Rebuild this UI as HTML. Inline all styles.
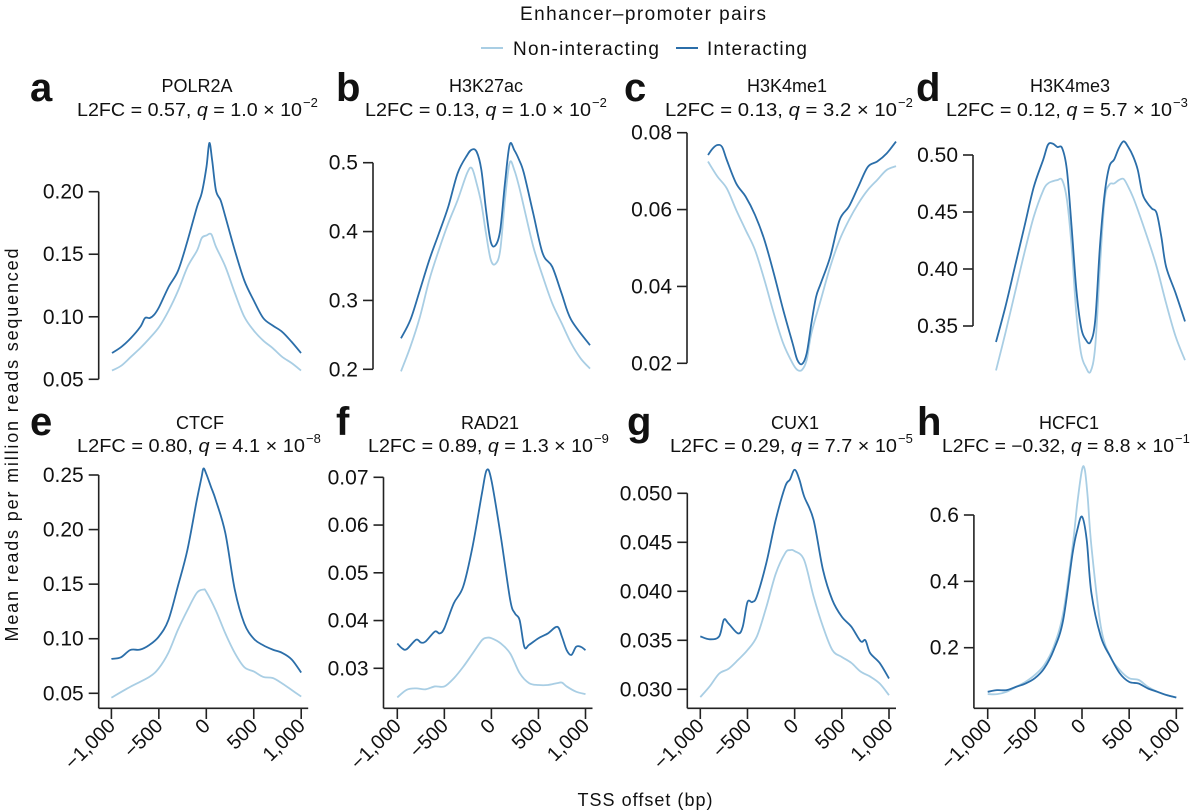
<!DOCTYPE html>
<html><head><meta charset="utf-8"><style>
html,body{margin:0;padding:0;background:#fff;}
svg{display:block;font-family:"Liberation Sans",Arial,sans-serif;}
</style></head><body>
<svg id="fig" width="1200" height="812" viewBox="0 0 1200 812">
<text x="643" y="20" font-size="19" text-anchor="middle" textLength="246" fill="#111">Enhancer–promoter pairs</text>
<line x1="481" y1="48" x2="503" y2="48" stroke="#a9cee4" stroke-width="2"/>
<text x="513" y="55" font-size="19" textLength="146" fill="#111">Non-interacting</text>
<line x1="676" y1="48" x2="698" y2="48" stroke="#2b6ea9" stroke-width="2"/>
<text x="707" y="55" font-size="19" textLength="100" fill="#111">Interacting</text>
<text transform="translate(18,445) rotate(-90)" font-size="18" text-anchor="middle" textLength="393" fill="#111">Mean reads per million reads sequenced</text>
<text x="645" y="806" font-size="18" text-anchor="middle" textLength="135" fill="#111">TSS offset (bp)</text>
<g id="panels"></g>
</svg>
<script>
// ---- data: [TSS offset bp, mean reads per million] ----
const polr2aInteracting=[[-1000,0.071],[-900,0.076],[-800,0.083],[-700,0.092],[-650,0.099],[-600,0.099],[-550,0.102],[-500,0.108],[-400,0.124],[-300,0.137],[-200,0.161],[-100,0.188],[-50,0.199],[0,0.220],[30,0.239],[60,0.225],[100,0.201],[150,0.193],[200,0.180],[300,0.153],[400,0.129],[500,0.113],[600,0.099],[700,0.093],[800,0.088],[900,0.080],[1000,0.071]];
const polr2aNon=[[-1000,0.057],[-900,0.061],[-800,0.068],[-700,0.075],[-600,0.083],[-500,0.092],[-400,0.105],[-300,0.121],[-200,0.140],[-100,0.153],[-50,0.163],[0,0.165],[50,0.166],[100,0.156],[200,0.140],[300,0.119],[400,0.100],[500,0.089],[600,0.081],[700,0.075],[800,0.068],[900,0.063],[1000,0.057]];
const h3k27acInteracting=[[-1000,0.245],[-900,0.272],[-800,0.315],[-700,0.359],[-600,0.397],[-500,0.436],[-400,0.485],[-300,0.511],[-250,0.519],[-200,0.516],[-150,0.490],[-100,0.431],[-50,0.385],[0,0.380],[50,0.402],[100,0.470],[150,0.526],[200,0.518],[250,0.504],[300,0.485],[400,0.426],[500,0.368],[600,0.349],[700,0.310],[800,0.272],[1000,0.235]];
const h3k27acNon=[[-1000,0.197],[-900,0.233],[-800,0.276],[-700,0.330],[-600,0.373],[-500,0.412],[-400,0.446],[-300,0.485],[-250,0.492],[-200,0.470],[-150,0.441],[-100,0.397],[-50,0.359],[0,0.353],[50,0.373],[100,0.446],[150,0.500],[200,0.489],[250,0.465],[300,0.436],[400,0.378],[500,0.335],[600,0.296],[700,0.267],[800,0.238],[900,0.216],[1000,0.201]];
const h3k4me1Interacting=[[-1000,0.0742],[-950,0.0759],[-900,0.0768],[-850,0.0763],[-800,0.0729],[-700,0.0668],[-600,0.0634],[-500,0.0586],[-400,0.0521],[-300,0.0434],[-200,0.0339],[-100,0.0252],[-50,0.0209],[0,0.0198],[50,0.0226],[100,0.0304],[150,0.0373],[200,0.0408],[300,0.0477],[400,0.0573],[500,0.0608],[600,0.0660],[700,0.0711],[800,0.0725],[900,0.0746],[1000,0.0777]];
const h3k4me1Non=[[-1000,0.0725],[-900,0.0686],[-800,0.0655],[-700,0.0599],[-600,0.0547],[-500,0.0495],[-400,0.0417],[-300,0.0330],[-200,0.0252],[-100,0.0200],[-50,0.0183],[0,0.0183],[50,0.0209],[100,0.0278],[200,0.0365],[300,0.0451],[400,0.0521],[500,0.0573],[600,0.0616],[700,0.0651],[800,0.0677],[900,0.0703],[1000,0.0713]];
const h3k4me3Interacting=[[-1000,0.336],[-900,0.367],[-800,0.402],[-700,0.437],[-600,0.472],[-500,0.496],[-450,0.509],[-400,0.510],[-350,0.507],[-300,0.506],[-250,0.487],[-200,0.437],[-150,0.382],[-100,0.349],[-50,0.338],[0,0.336],[50,0.355],[100,0.420],[150,0.466],[200,0.490],[250,0.496],[300,0.506],[350,0.512],[400,0.507],[450,0.499],[500,0.487],[550,0.466],[600,0.458],[650,0.453],[700,0.449],[750,0.428],[800,0.402],[900,0.379],[1000,0.354]];
const h3k4me3Non=[[-1000,0.311],[-900,0.344],[-800,0.379],[-700,0.414],[-600,0.446],[-500,0.469],[-450,0.475],[-400,0.477],[-350,0.478],[-300,0.478],[-250,0.461],[-200,0.420],[-150,0.361],[-100,0.326],[-50,0.314],[0,0.310],[50,0.332],[100,0.402],[150,0.461],[200,0.474],[250,0.475],[300,0.478],[350,0.479],[400,0.472],[450,0.463],[500,0.452],[600,0.428],[700,0.402],[800,0.370],[900,0.341],[1000,0.320]];
const ctcfInteracting=[[-1000,0.0815],[-900,0.083],[-800,0.0897],[-700,0.090],[-600,0.0943],[-500,0.102],[-400,0.117],[-300,0.148],[-200,0.181],[-100,0.227],[-50,0.248],[-30,0.256],[0,0.251],[50,0.239],[100,0.227],[200,0.197],[300,0.145],[400,0.114],[500,0.100],[600,0.094],[700,0.090],[800,0.087],[900,0.081],[1000,0.069]];
const ctcfNon=[[-1000,0.046],[-800,0.056],[-600,0.065],[-500,0.073],[-400,0.087],[-300,0.108],[-200,0.126],[-100,0.142],[-30,0.145],[0,0.143],[100,0.126],[200,0.105],[300,0.087],[400,0.074],[500,0.070],[600,0.065],[700,0.064],[800,0.059],[900,0.053],[1000,0.047]];
const rad21Interacting=[[-1000,0.0352],[-950,0.0342],[-900,0.034],[-800,0.036],[-750,0.0354],[-700,0.0356],[-600,0.0377],[-550,0.0373],[-500,0.0384],[-400,0.0436],[-300,0.0471],[-200,0.0555],[-100,0.0667],[-50,0.0715],[0,0.0694],[100,0.0576],[200,0.0443],[250,0.0415],[300,0.0401],[350,0.0345],[400,0.0349],[500,0.0363],[600,0.0373],[700,0.0387],[750,0.0366],[800,0.0338],[850,0.0328],[900,0.0345],[950,0.0345],[1000,0.0338]];
const rad21Non=[[-1000,0.0239],[-900,0.0255],[-800,0.0258],[-700,0.0256],[-600,0.0262],[-500,0.0262],[-400,0.0279],[-300,0.0303],[-200,0.0331],[-100,0.0359],[-50,0.0364],[0,0.0363],[100,0.0352],[200,0.0331],[300,0.029],[400,0.0269],[500,0.0265],[600,0.0265],[700,0.0269],[750,0.027],[800,0.0262],[900,0.0251],[1000,0.0246]];
const cux1Interacting=[[-1000,0.0354],[-900,0.0351],[-800,0.0354],[-750,0.0371],[-700,0.0367],[-600,0.0357],[-550,0.0364],[-500,0.0389],[-450,0.0389],[-400,0.0395],[-300,0.0429],[-200,0.0473],[-100,0.0507],[-50,0.0514],[0,0.0524],[50,0.0514],[100,0.0497],[200,0.0473],[300,0.0422],[400,0.0391],[500,0.0374],[600,0.0364],[700,0.0349],[750,0.035],[800,0.0337],[900,0.0327],[1000,0.0311]];
const cux1Non=[[-1000,0.0292],[-900,0.0303],[-800,0.0316],[-700,0.0321],[-600,0.033],[-500,0.034],[-400,0.0354],[-300,0.0384],[-200,0.0418],[-100,0.0439],[-50,0.0442],[0,0.0441],[100,0.0432],[200,0.0395],[300,0.0364],[400,0.034],[500,0.0333],[600,0.0327],[700,0.0318],[800,0.0313],[900,0.0306],[1000,0.0294]];
const hcfc1Interacting=[[-1000,0.067],[-900,0.072],[-800,0.072],[-700,0.082],[-600,0.092],[-500,0.108],[-400,0.138],[-300,0.193],[-200,0.283],[-100,0.484],[-50,0.555],[0,0.595],[50,0.525],[100,0.364],[200,0.233],[300,0.173],[400,0.123],[500,0.097],[600,0.092],[700,0.077],[800,0.067],[900,0.057],[1000,0.050]];
const hcfc1Non=[[-1000,0.060],[-900,0.060],[-800,0.067],[-700,0.082],[-600,0.097],[-500,0.118],[-400,0.148],[-300,0.203],[-200,0.304],[-100,0.505],[-50,0.635],[0,0.736],[30,0.736],[60,0.655],[100,0.505],[200,0.263],[300,0.173],[400,0.133],[500,0.108],[600,0.103],[700,0.082],[800,0.067],[900,0.057],[1000,0.050]];

const xTickValues=[-1000,-500,0,500,1000];
const xTickLabels=["\u22121,000","\u2212500","0","500","1,000"];
const ticksA=[0.05,0.10,0.15,0.20]; const labelsA=["0.05","0.10","0.15","0.20"];
const ticksB=[0.2,0.3,0.4,0.5]; const labelsB=["0.2","0.3","0.4","0.5"];
const ticksC=[0.02,0.04,0.06,0.08]; const labelsC=["0.02","0.04","0.06","0.08"];
const ticksD=[0.35,0.40,0.45,0.50]; const labelsD=["0.35","0.40","0.45","0.50"];
const ticksE=[0.05,0.10,0.15,0.20,0.25]; const labelsE=["0.05","0.10","0.15","0.20","0.25"];
const ticksF=[0.03,0.04,0.05,0.06,0.07]; const labelsF=["0.03","0.04","0.05","0.06","0.07"];
const ticksG=[0.030,0.035,0.040,0.045,0.050]; const labelsG=["0.030","0.035","0.040","0.045","0.050"];
const ticksH=[0.2,0.4,0.6]; const labelsH=["0.2","0.4","0.6"];

// ---- layout (pixels) ----
const panels=[
 {id:"a",name:"POLR2A",l2fc:"0.57",q:"1.0",exp:"\u22122",ax:98.7,x0:112,x1:301,v1:0.20,p1:191.7,v2:0.05,p2:379.3,ticks:ticksA,labels:labelsA,inter:polr2aInteracting,non:polr2aNon,bottom:false,lx:30,ly:101,nx:197,ny:92,tx:77,tw:225,ty:116},
 {id:"b",name:"H3K27ac",l2fc:"0.13",q:"1.0",exp:"\u22122",ax:373,x0:401,x1:590,v1:0.5,p1:162.7,v2:0.2,p2:369.3,ticks:ticksB,labels:labelsB,inter:h3k27acInteracting,non:h3k27acNon,bottom:false,lx:336,ly:101,nx:486,ny:92,tx:365,tw:226,ty:116},
 {id:"c",name:"H3K4me1",l2fc:"0.13",q:"3.2",exp:"\u22122",ax:687,x0:708,x1:896,v1:0.08,p1:132.7,v2:0.02,p2:363.3,ticks:ticksC,labels:labelsC,inter:h3k4me1Interacting,non:h3k4me1Non,bottom:false,lx:624,ly:101,nx:787,ny:92,tx:665,tw:232,ty:116},
 {id:"d",name:"H3K4me3",l2fc:"0.12",q:"5.7",exp:"\u22123",ax:973,x0:996,x1:1185,v1:0.50,p1:155,v2:0.35,p2:326,ticks:ticksD,labels:labelsD,inter:h3k4me3Interacting,non:h3k4me3Non,bottom:false,lx:916,ly:101,nx:1070,ny:92,tx:946,tw:226,ty:116},
 {id:"e",name:"CTCF",l2fc:"0.80",q:"4.1",exp:"\u22128",ax:98.7,x0:111.4,x1:301.2,v1:0.25,p1:475,v2:0.05,p2:693.3,ticks:ticksE,labels:labelsE,inter:ctcfInteracting,non:ctcfNon,bottom:true,lx:30,ly:435,nx:200,ny:429,tx:77,tw:228,ty:452},
 {id:"f",name:"RAD21",l2fc:"0.89",q:"1.3",exp:"\u22129",ax:383.5,x0:397.3,x1:585.5,v1:0.07,p1:477.3,v2:0.03,p2:668.3,ticks:ticksF,labels:labelsF,inter:rad21Interacting,non:rad21Non,bottom:true,lx:336,ly:435,nx:490,ny:429,tx:368,tw:225,ty:452},
 {id:"g",name:"CUX1",l2fc:"0.29",q:"7.7",exp:"\u22125",ax:687.3,x0:700.3,x1:889,v1:0.050,p1:493.3,v2:0.030,p2:689.3,ticks:ticksG,labels:labelsG,inter:cux1Interacting,non:cux1Non,bottom:true,lx:627,ly:435,nx:795,ny:429,tx:670,tw:227,ty:452},
 {id:"h",name:"HCFC1",l2fc:"\u22120.32",q:"8.8",exp:"\u22121",ax:973.9,x0:987.7,x1:1176.3,v1:0.6,p1:515,v2:0.2,p2:647.7,ticks:ticksH,labels:labelsH,inter:hcfc1Interacting,non:hcfc1Non,bottom:true,lx:917,ly:435,nx:1069,ny:429,tx:942,tw:232,ty:452}
];
const NS="http://www.w3.org/2000/svg";
const root=document.getElementById("panels");
function mk(tag,attrs,parent){const e=document.createElementNS(NS,tag);for(const k in attrs)e.setAttribute(k,attrs[k]);parent.appendChild(e);return e;}
function smoothPath(pts){
 let d="M"+pts[0][0].toFixed(2)+","+pts[0][1].toFixed(2);
 for(let i=0;i<pts.length-1;i++){
  const p0=pts[i-1]||pts[i],p1=pts[i],p2=pts[i+1],p3=pts[i+2]||p2;
  const c1x=p1[0]+(p2[0]-p0[0])/6,c1y=p1[1]+(p2[1]-p0[1])/6;
  const c2x=p2[0]-(p3[0]-p1[0])/6,c2y=p2[1]-(p3[1]-p1[1])/6;
  d+=" C"+c1x.toFixed(2)+","+c1y.toFixed(2)+" "+c2x.toFixed(2)+","+c2y.toFixed(2)+" "+p2[0].toFixed(2)+","+p2[1].toFixed(2);
 }
 return d;
}
panels.forEach(p=>{
 const g=mk("g",{},root);
 
 
 const xs=v=>p.x0+(v+1000)/2000*(p.x1-p.x0);
 const ys=v=>p.p2+(v-p.v2)/(p.v1-p.v2)*(p.p1-p.p2);
 const L=mk("text",{x:p.lx,y:p.ly,"font-size":40,"font-weight":"bold",fill:"#111"},g);
 L.textContent=p.id;
 
 
 const N=mk("text",{x:p.nx,y:p.ny,"font-size":18,"text-anchor":"middle",fill:"#111"},g);
 N.textContent=p.name;
 
 
 const S=mk("text",{x:p.tx,y:p.ty,"font-size":18,fill:"#111",textLength:p.tw,lengthAdjust:"spacingAndGlyphs"},g);
 
 
 const t1=mk("tspan",{},S);t1.textContent="L2FC = "+p.l2fc+", ";
 const t2=mk("tspan",{"font-style":"italic"},S);t2.textContent="q";
 const t3=mk("tspan",{},S);t3.textContent=" = "+p.q+" \u00d7 10";
 const E=mk("text",{x:p.tx+p.tw+1,y:p.ty-9,"font-size":13,fill:"#111"},g);
 E.textContent=p.exp;
 
 
 const topY=ys(p.ticks[p.ticks.length-1]);
 const botY=p.bottom?708.3:ys(p.ticks[0]);
 const ya=mk("line",{x1:p.ax,y1:topY,x2:p.ax,y2:botY,stroke:"#222","stroke-width":1.6},g);
 
 
 p.ticks.forEach((v,i)=>{
  const y=ys(v);
  const tk=mk("line",{x1:p.ax-10,y1:y,x2:p.ax,y2:y,stroke:"#222","stroke-width":1.6},g);
  
  
  const tl=mk("text",{x:p.ax-15,y:y+7,"font-size":21,"text-anchor":"end",fill:"#111"},g);
  tl.textContent=p.labels[i];
  
  
 });
 if(p.bottom){
  const xa=mk("line",{x1:p.ax,y1:708.3,x2:p.x1+7,y2:708.3,stroke:"#222","stroke-width":1.6},g);
  
  
  xTickValues.forEach((v,i)=>{
   const x=xs(v);
   const tk=mk("line",{x1:x,y1:708.3,x2:x,y2:719,stroke:"#222","stroke-width":1.6},g);
   
   
   const tl=mk("text",{transform:"translate("+(x+5)+",727) rotate(-45)","font-size":20,"text-anchor":"end",fill:"#111"},g);
   tl.textContent=xTickLabels[i];
   
   
  });
 }
 const nonPath=mk("path",{d:smoothPath(p.non.map(q=>[xs(q[0]),ys(q[1])])),fill:"none",stroke:"#a9cee4","stroke-width":1.8},g);
 
 
 const intPath=mk("path",{d:smoothPath(p.inter.map(q=>[xs(q[0]),ys(q[1])])),fill:"none",stroke:"#2b6ea9","stroke-width":1.8},g);
 
 
});
</script>
</body></html>
